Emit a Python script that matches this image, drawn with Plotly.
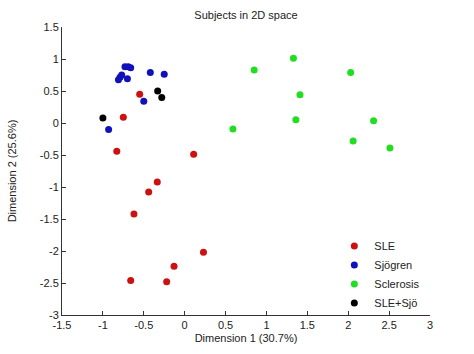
import plotly.graph_objects as go

sle_x = [-0.55, -0.75, -0.83, 0.11, -0.335, -0.44, -0.62, 0.23, -0.13, -0.66, -0.22]
sle_y = [0.45, 0.09, -0.44, -0.49, -0.92, -1.08, -1.42, -2.02, -2.24, -2.46, -2.48]

sjo_x = [-0.73, -0.69, -0.66, -0.77, -0.79, -0.81, -0.70, -0.42, -0.25, -0.50, -0.93]
sjo_y = [0.88, 0.88, 0.865, 0.75, 0.715, 0.675, 0.69, 0.79, 0.76, 0.34, -0.10]

scl_x = [1.33, 0.85, 2.03, 1.41, 1.36, 2.31, 2.06, 2.51, 0.59]
scl_y = [1.01, 0.83, 0.79, 0.44, 0.05, 0.035, -0.28, -0.39, -0.095]

both_x = [-1.0, -0.33, -0.28]
both_y = [0.08, 0.50, 0.40]

series = [
    ("SLE", sle_x, sle_y, "#cc1111"),
    ("Sjögren", sjo_x, sjo_y, "#1111bb"),
    ("Sclerosis", scl_x, scl_y, "#22dd22"),
    ("SLE+Sjö", both_x, both_y, "#000000"),
]

fig = go.Figure()
for name, xs, ys, col in series:
    fig.add_trace(go.Scatter(x=xs, y=ys, mode="markers", name=name,
                             marker=dict(color=col, size=7, line=dict(width=0))))

font = dict(family="Liberation Sans, Arial, sans-serif", size=11, color="#222222")
axis_common = dict(showline=True, linecolor="#333333", linewidth=1, ticks="inside",
                   ticklen=4, tickcolor="#333333", showgrid=False, zeroline=False,
                   mirror=False, tickfont=font)

fig.update_layout(
    width=474, height=354,
    margin=dict(l=62, r=44, t=27, b=39),
    paper_bgcolor="white", plot_bgcolor="white",
    font=font,
    title=dict(text="Subjects in 2D space", x=(62 + 430) / 2 / 474, xanchor="center",
               y=1 - 15 / 354, yanchor="middle", font=font),
    xaxis=dict(range=[-1.5, 3], tickvals=[-1.5, -1, -0.5, 0, 0.5, 1, 1.5, 2, 2.5, 3],
               ticktext=["-1.5", "-1", "-0.5", "0", "0.5", "1", "1.5", "2", "2.5", "3"],
               title=dict(text="Dimension 1 (30.7%)", font=font, standoff=4), **axis_common),
    yaxis=dict(range=[-3, 1.5], tickvals=[-3, -2.5, -2, -1.5, -1, -0.5, 0, 0.5, 1, 1.5],
               ticktext=["-3", "-2.5", "-2", "-1.5", "-1", "-0.5", "0", "0.5", "1", "1.5"],
               title=dict(text="Dimension 2 (25.6%)", font=font, standoff=20), **axis_common),
    legend=dict(x=0.74, y=0.29, xanchor="left", yanchor="top", bgcolor="rgba(0,0,0,0)",
                borderwidth=0, font=dict(family="Liberation Sans, Arial, sans-serif", size=11,
                                         color="#222222"), tracegroupgap=0),
    showlegend=True,
)

fig.write_html("out.html")
